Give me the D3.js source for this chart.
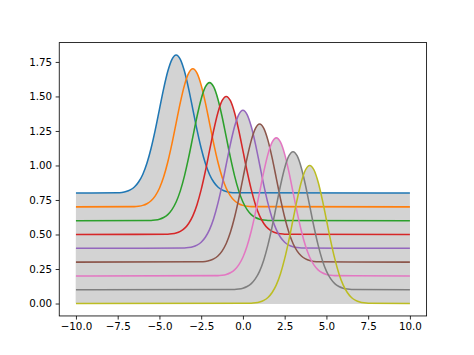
<!DOCTYPE html>
<html><head><meta charset="utf-8">
<script src="https://cdn.jsdelivr.net/npm/d3@7"></script>
<style>body{margin:0;background:#fff}svg{display:block}</style>
</head><body>
<script>
// Data
const centers   = [-4, -3, -2, -1, 0, 1, 2, 3, 4];
const baselines = [0.8, 0.7, 0.6, 0.5, 0.4, 0.3, 0.2, 0.1, 0.0];
const colors = ["#1f77b4","#ff7f0e","#2ca02c","#d62728","#9467bd","#8c564b","#e377c2","#7f7f7f","#bcbd22"];
// bump profile: offsets from peak and height above baseline (peak height 1.0)
const profileOffsets = [-3.5,-3.25,-3,-2.75,-2.5,-2.25,-2,-1.75,-1.5,-1.25,-1,-0.75,-0.5,-0.25,0,0.25,0.5,0.75,1,1.25,1.5,1.75,2,2.25,2.5,2.75,3,3.25,3.5];
const profileValues  = [0.002,0.005,0.011,0.023,0.044,0.080,0.135,0.216,0.325,0.458,0.607,0.755,0.882,0.969,1.0,0.969,0.882,0.755,0.607,0.458,0.325,0.216,0.135,0.080,0.044,0.023,0.011,0.005,0.002];
const xDomain = [-10, 10];
const xTicks = [-10,-7.5,-5,-2.5,0,2.5,5,7.5,10];
const yTicks = [0,0.25,0.5,0.75,1.0,1.25,1.5,1.75];

const W = 474, H = 355;
const mL = 59.25, mR = 426.6, mT = 42.6, mB = 315.95;
const x = d3.scaleLinear().domain([-11, 11]).range([mL, mR]);
const y = d3.scaleLinear().domain([-0.09, 1.89]).range([mB, mT]);

const series = centers.map((c, i) => {
  const pts = [[xDomain[0], baselines[i]]];
  profileOffsets.forEach((o, k) => pts.push([c + o, baselines[i] + profileValues[k]]));
  pts.push([xDomain[1], baselines[i]]);
  return pts;
});

const svg = d3.select("body").append("svg").attr("width", W).attr("height", H);
const g = svg.append("g");

const area = d3.area().x(d => x(d[0])).y0(y(0)).y1(d => y(d[1])).curve(d3.curveMonotoneX);
const line = d3.line().x(d => x(d[0])).y(d => y(d[1])).curve(d3.curveMonotoneX);

series.forEach(s => g.append("path").attr("d", area(s)).attr("fill", "#d3d3d3"));
series.forEach((s, i) => g.append("path").attr("d", line(s)).attr("fill", "none")
  .attr("stroke", colors[i]).attr("stroke-width", 1.54).attr("stroke-linejoin", "round"));

const fmt = v => (v < 0 ? "\u2212" : "") + Math.abs(v).toFixed(1);
const xAxis = svg.append("g").attr("transform", `translate(0,${mB})`)
  .call(d3.axisBottom(x).tickValues(xTicks).tickFormat(fmt).tickSize(3.6).tickPadding(3.6));
const yAxis = svg.append("g").attr("transform", `translate(${mL},0)`)
  .call(d3.axisLeft(y).tickValues(yTicks).tickFormat(d => d.toFixed(2)).tickSize(3.6).tickPadding(3.6));
[xAxis, yAxis].forEach(a => {
  a.select(".domain").remove();
  a.selectAll(".tick line").attr("stroke", "#000").attr("stroke-width", 0.82);
  a.selectAll("text").attr("font-family", "DejaVu Sans").attr("font-size", 10.3).attr("fill", "#000");
});
svg.append("rect").attr("x", mL).attr("y", mT).attr("width", mR - mL).attr("height", mB - mT)
  .attr("fill", "none").attr("stroke", "#000").attr("stroke-width", 0.82);
</script>
</body></html>
